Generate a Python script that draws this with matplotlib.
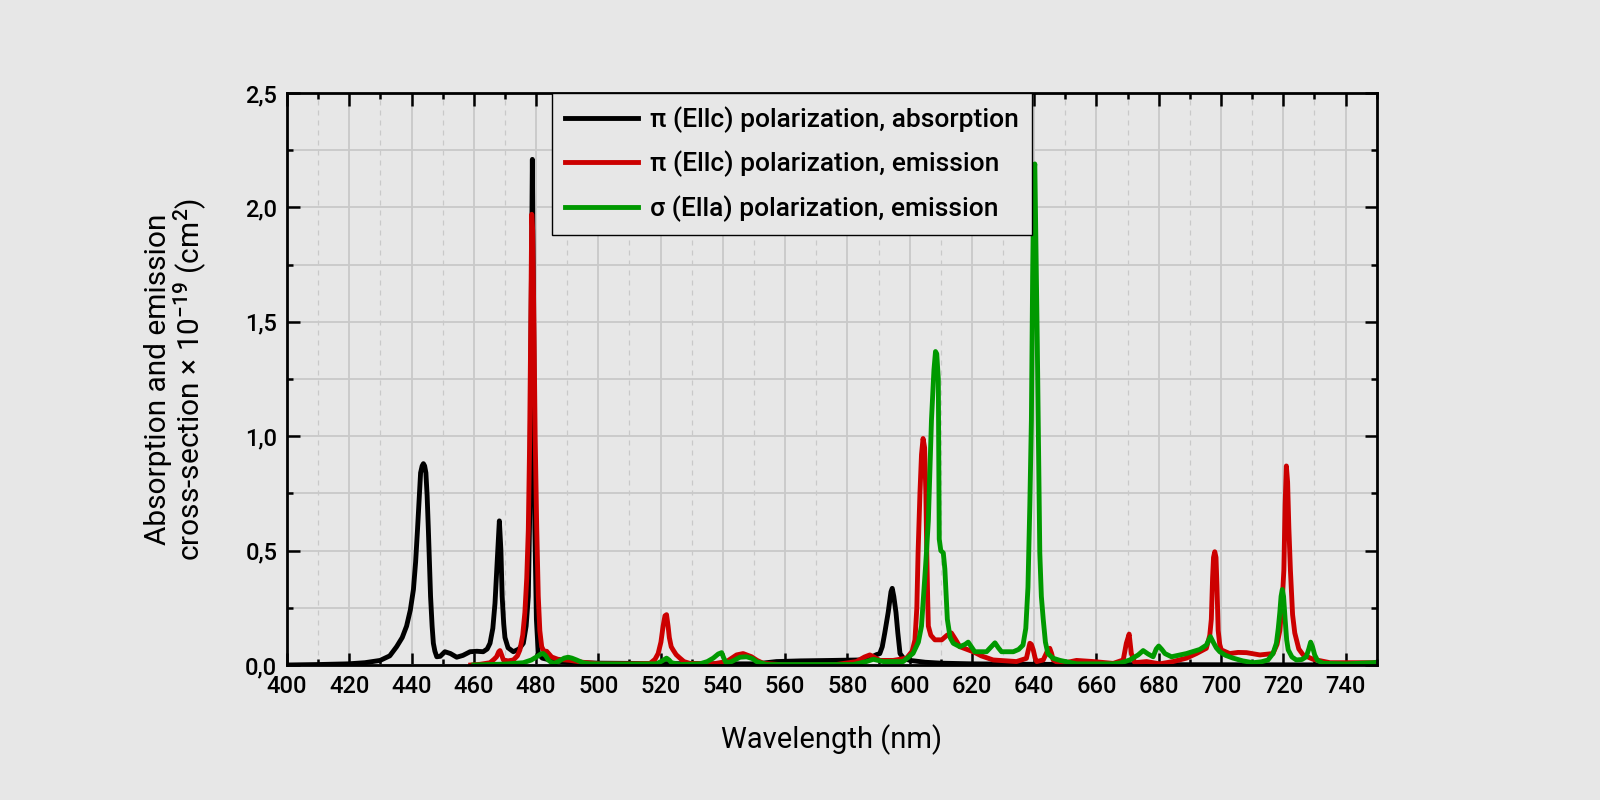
import matplotlib
matplotlib.use("Agg")
import matplotlib.pyplot as plt
from matplotlib.ticker import MultipleLocator, FuncFormatter

# spectra: (wavelength nm, cross-section x 1e-19 cm^2)
abs_pi = [
    (400, 0), (410, 0.002), (419.6, 0.005), (425, 0.01), (429.9, 0.02), (433, 0.04),
    (435.2, 0.08), (437, 0.12), (438.4, 0.17), (439.6, 0.24), (440.6, 0.33), (441.3, 0.45),
    (441.9, 0.59), (442.5, 0.74), (442.9, 0.84), (443.4, 0.87), (443.8, 0.88), (444.2, 0.87),
    (444.6, 0.84), (445.0, 0.74), (445.4, 0.59), (446.1, 0.30), (446.6, 0.17), (447.0, 0.095),
    (447.5, 0.06), (448.1, 0.036), (449.2, 0.038), (450.7, 0.058), (452.5, 0.05), (454.5, 0.034),
    (456.5, 0.042), (458.8, 0.058), (461, 0.06), (463.0, 0.058), (464.3, 0.07), (465.2, 0.095),
    (466.1, 0.16), (466.8, 0.27), (467.5, 0.45), (468.2, 0.63), (468.7, 0.5), (469.1, 0.30),
    (469.6, 0.18), (470.0, 0.12), (471, 0.075), (472.7, 0.058), (474.5, 0.07), (475.9, 0.095),
    (476.8, 0.17), (477.5, 0.30), (478.0, 0.7), (478.4, 1.5), (478.8, 2.21), (479.2, 1.5),
    (479.6, 0.6), (480.1, 0.2), (480.7, 0.05), (482, 0.03), (485, 0.02), (490, 0.012),
    (500, 0.008), (520, 0.006), (540, 0.005), (550.8, 0.005), (557.2, 0.015), (565, 0.018),
    (575.4, 0.02), (584, 0.022), (587, 0.03), (589.3, 0.045), (590.4, 0.05), (591.2, 0.08),
    (592, 0.14), (593.1, 0.23), (593.6, 0.28), (594.0, 0.32), (594.4, 0.335), (594.9, 0.3),
    (595.6, 0.23), (596.2, 0.14), (596.9, 0.05), (598, 0.03), (600.1, 0.02), (605, 0.012),
    (610, 0.008), (620, 0.005), (640, 0.003), (660, 0.002), (700, 0.001), (750, 0.0),
]

em_pi = [
    (459, 0), (462, 0.003), (465.2, 0.01), (466.5, 0.025), (467.3, 0.036), (468.0, 0.058),
    (468.4, 0.063), (468.9, 0.045), (469.5, 0.022), (471, 0.018), (472.7, 0.022), (474, 0.04),
    (474.8, 0.066), (475.7, 0.13), (476.4, 0.23), (477.0, 0.38), (477.5, 0.59), (477.9, 0.95),
    (478.3, 1.5), (478.6, 1.97), (478.9, 1.9), (479.3, 1.5), (479.7, 1.0), (480.2, 0.6),
    (480.7, 0.3), (481.2, 0.15), (481.8, 0.08), (482.5, 0.06), (483.4, 0.06), (485, 0.035),
    (487, 0.025), (491, 0.02), (495, 0.012), (500.5, 0.005), (510, 0.005), (516.6, 0.007),
    (518.2, 0.025), (519.2, 0.05), (520.1, 0.1), (520.8, 0.17), (521.4, 0.215), (521.9, 0.22),
    (522.4, 0.17), (522.8, 0.12), (523.4, 0.08), (524.0, 0.066), (525, 0.045), (526.2, 0.03),
    (527.5, 0.015), (529.4, 0.007), (536.9, 0.005), (541.2, 0.015), (544.4, 0.044), (546.5, 0.05),
    (549.2, 0.036), (551, 0.02), (553, 0.007), (560.4, 0.0), (575.4, 0.0), (582.9, 0.015),
    (585.5, 0.035), (587.2, 0.044), (588.5, 0.035), (590.4, 0.02), (594.7, 0.02), (599, 0.03),
    (600.8, 0.06), (601.7, 0.11), (602.3, 0.25), (602.7, 0.49), (603.3, 0.75), (603.8, 0.92),
    (604.3, 0.99), (604.8, 0.95), (605.2, 0.75), (605.5, 0.49), (605.8, 0.28), (606.0, 0.17),
    (606.8, 0.13), (608.1, 0.11), (610.3, 0.11), (612, 0.13), (613.4, 0.14), (614.8, 0.11),
    (616.1, 0.08), (620.4, 0.058), (623, 0.04), (626.8, 0.022), (634.3, 0.015), (637.5, 0.029),
    (638.2, 0.07), (638.6, 0.095), (639.1, 0.09), (639.7, 0.066), (640.3, 0.03), (640.8, 0.015),
    (642.9, 0.022), (644.2, 0.06), (645.0, 0.073), (645.6, 0.05), (646.1, 0.022), (648.3, 0.005),
    (653.6, 0.02), (659, 0.015), (665.4, 0.007), (668.6, 0.022), (669.6, 0.095), (670.5, 0.135),
    (671.2, 0.05), (672.3, 0.01), (676.1, 0.015), (680.3, 0.005), (684.6, 0.015), (688.9, 0.03),
    (692.1, 0.05), (695.3, 0.073), (696.4, 0.13), (696.9, 0.2), (697.3, 0.38), (697.6, 0.47),
    (698.0, 0.495), (698.4, 0.47), (698.7, 0.35), (699.1, 0.15), (699.6, 0.09), (700.1, 0.066),
    (702.8, 0.05), (705.5, 0.055), (708.2, 0.054), (712.5, 0.044), (716.7, 0.05), (718.0, 0.09),
    (718.9, 0.15), (719.6, 0.26), (720.2, 0.415), (720.6, 0.7), (721.0, 0.87), (721.4, 0.8),
    (721.8, 0.6), (722.3, 0.415), (723.0, 0.22), (723.7, 0.14), (725, 0.07), (726.4, 0.044),
    (729.6, 0.025), (735, 0.01), (750, 0.01),
]

em_sigma = [
    (460, 0), (470, 0.004), (475.9, 0.01), (478.5, 0.022), (480.2, 0.036), (481.5, 0.048),
    (482.3, 0.05), (483.1, 0.04), (483.9, 0.022), (485, 0.01), (486.1, 0.008), (487.5, 0.018),
    (489, 0.03), (490.3, 0.034), (491.5, 0.03), (493.0, 0.022), (495, 0.01), (497.3, 0.005),
    (510, 0.004), (518.7, 0.005), (520.5, 0.018), (521.9, 0.03), (522.7, 0.022), (523.5, 0.01),
    (526.2, 0.002), (532.6, 0.005), (535, 0.015), (536.9, 0.03), (538.5, 0.048), (539.6, 0.054),
    (540.3, 0.03), (541, 0.01), (542.8, 0.015), (545.5, 0.034), (547.6, 0.036), (549.5, 0.028),
    (550.8, 0.015), (554, 0.002), (581.9, 0.002), (586.1, 0.015), (588.3, 0.025), (591.5, 0.015),
    (594.7, 0.015), (597.9, 0.015), (601.1, 0.051), (602.8, 0.1), (603.8, 0.17), (604.3, 0.27),
    (605.2, 0.45), (606.0, 0.63), (607.0, 1.07), (607.8, 1.29), (608.3, 1.37), (608.7, 1.36),
    (609.2, 1.25), (609.35, 0.93), (609.5, 0.55), (610.0, 0.5), (610.8, 0.49), (611.3, 0.42),
    (611.6, 0.34), (612.1, 0.2), (613, 0.12), (614.0, 0.095), (616.1, 0.08), (617.8, 0.09),
    (618.8, 0.10), (619.8, 0.08), (620.9, 0.058), (624.7, 0.058), (626.2, 0.08), (627.4, 0.097),
    (628.5, 0.075), (629.5, 0.058), (633.3, 0.058), (635, 0.068), (636.4, 0.087), (637.3, 0.16),
    (638.0, 0.34), (638.6, 0.7), (639.1, 1.07), (639.5, 1.7), (639.9, 2.15), (640.2, 2.19),
    (640.6, 1.8), (641.0, 1.4), (641.3, 1.07), (641.8, 0.49), (642.3, 0.3), (642.9, 0.2),
    (643.6, 0.1), (644.4, 0.05), (646, 0.03), (648.3, 0.02), (653.6, 0.005), (665.4, 0.005),
    (668, 0.01), (670.7, 0.022), (673.4, 0.044), (675.0, 0.063), (676.6, 0.048), (678.2, 0.036),
    (679.2, 0.07), (680.0, 0.083), (681, 0.068), (682, 0.05), (684.1, 0.036), (688.9, 0.05),
    (693.2, 0.068), (695.3, 0.087), (696.6, 0.124), (697.5, 0.1), (698.5, 0.075), (699.6, 0.058),
    (701.5, 0.042), (703.9, 0.03), (707, 0.018), (710.3, 0.01), (713, 0.014), (715.1, 0.022),
    (716.7, 0.05), (717.8, 0.095), (718.4, 0.16), (718.9, 0.23), (719.3, 0.3), (719.7, 0.33),
    (720.1, 0.3), (720.6, 0.2), (721.1, 0.11), (721.6, 0.066), (722.8, 0.035), (724.2, 0.022),
    (726, 0.024), (727.4, 0.036), (728.2, 0.07), (728.8, 0.1), (729.4, 0.08), (730.1, 0.044),
    (731, 0.02), (732.8, 0.007), (740.3, 0.005), (748.9, 0.01), (750, 0.012),
]

series = [
    (abs_pi, "black", "\u03c0 (Ellc) polarization, absorption"),
    (em_pi, "#cc0000", "\u03c0 (Ellc) polarization, emission"),
    (em_sigma, "#009900", "\u03c3 (Ella) polarization, emission"),
]

bg = "#e7e7e7"
grid_col = "#c9c9c9"

plt.rcParams["font.family"] = ["Roboto", "DejaVu Sans"]
plt.rcParams["font.weight"] = "medium"
plt.rcParams["mathtext.fontset"] = "custom"
plt.rcParams["mathtext.rm"] = "Roboto:medium"
plt.rcParams["mathtext.it"] = "Roboto:medium"

fig = plt.figure(figsize=(16, 8), dpi=100, facecolor=bg)
ax = fig.add_axes([0.1794, 0.16875, 0.681, 0.715])
ax.set_facecolor(bg)

for pts, col, lab in series:
    wl, val = zip(*pts)
    ax.plot(wl, val, color=col, lw=3.5, label=lab, solid_joinstyle="round")

ax.set_xlim(400, 750)
ax.set_ylim(0, 2.5)
ax.xaxis.set_major_locator(MultipleLocator(20))
ax.xaxis.set_minor_locator(MultipleLocator(10))
ax.yaxis.set_major_locator(MultipleLocator(0.5))
ax.yaxis.set_minor_locator(MultipleLocator(0.25))
ax.yaxis.set_major_formatter(FuncFormatter(lambda v, p: f"{v:.1f}".replace(".", ",")))

# grid: solid on majors and y minors, dashed on x minors
ax.set_axisbelow(True)
ax.grid(which="major", color=grid_col, lw=1.3)
ax.yaxis.grid(which="minor", color=grid_col, lw=1.3, ls="-")
ax.xaxis.grid(which="minor", color=grid_col, lw=0.9, ls=(0, (4, 4)))

ax.tick_params(which="both", direction="in", top=True, right=True, width=1.8,
               labelsize=17, colors="black")
ax.tick_params(which="major", length=9, pad=7)
ax.tick_params(which="minor", length=4.5)
for sp in ax.spines.values():
    sp.set_linewidth(2.0)

ax.set_xlabel("Wavelength (nm)", fontsize=21, labelpad=19)
ax.set_ylabel("Absorption and emission\ncross-section \u00d7 10$^{-19}$ (cm$^{2}$)",
              fontsize=21.5, labelpad=26, linespacing=1.0)

leg = ax.legend(loc="upper left", bbox_to_anchor=(0.243, 1.0), borderaxespad=0,
                fontsize=19, frameon=True, fancybox=False, facecolor=bg, framealpha=1,
                edgecolor="black", handlelength=2.75, handletextpad=0.48,
                borderpad=0.5, labelspacing=0.68)
leg.get_frame().set_linewidth(1.0)

fig.savefig("out.png", dpi=100, facecolor=bg)
